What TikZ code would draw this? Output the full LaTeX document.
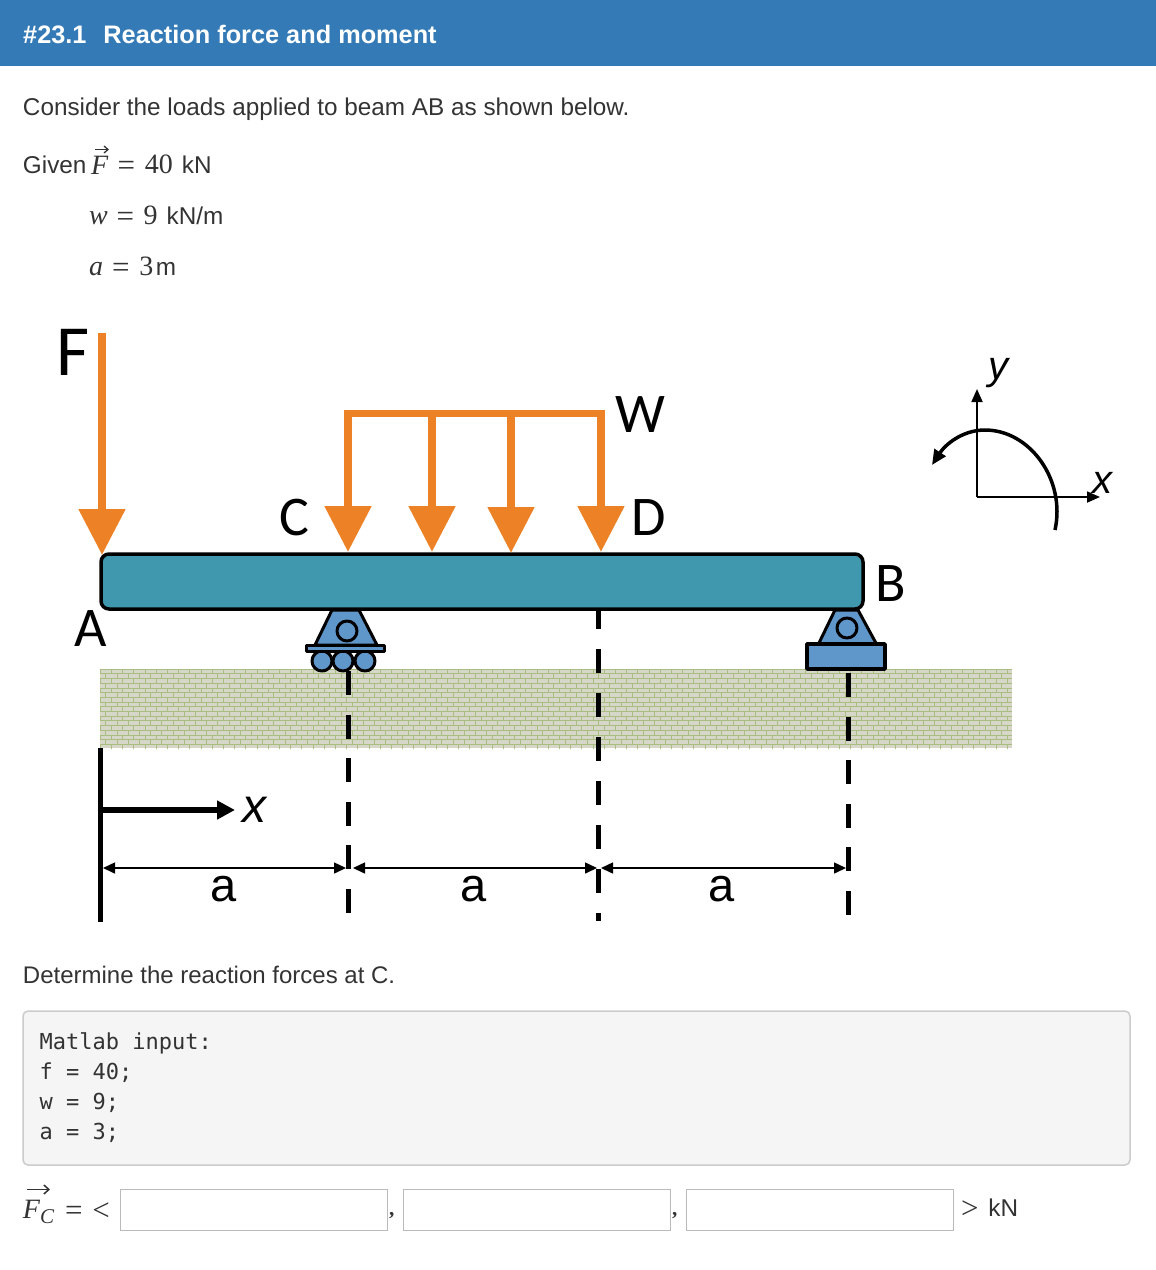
\documentclass[tikz,border=0pt]{standalone}
\usepackage{fontspec}
\usetikzlibrary{arrows.meta}
\setmainfont{Liberation Sans}
\newfontfamily\serf{Liberation Serif}
\newfontfamily\cali{Carlito}
\newfontfamily\monof{DejaVu Sans Mono}
\newcommand{\fs}[1]{\fontsize{#1}{#1}\selectfont}
\newcommand{\meq}{{\serf\fs{31}\raisebox{-2pt}{=}}}
\newcommand{\mnum}[1]{{\serf\fs{28}#1}}
\newcommand{\mvar}[1]{{\serf\itshape\fs{28}#1}}
\definecolor{headblue}{HTML}{337AB7}
\definecolor{bodytxt}{HTML}{333333}
\definecolor{orangeF}{HTML}{EC8125}
\definecolor{tealB}{HTML}{4098AE}
\definecolor{suppB}{HTML}{5F97CB}
\definecolor{brickbg}{HTML}{D6D7C8}
\definecolor{brickln}{HTML}{AABD80}
\tikzset{
  txt/.style={anchor=base west,inner sep=0pt,outer sep=0pt,text=bodytxt,font=\fs{24.3}},
  title/.style={anchor=base west,inner sep=0pt,text=white,font=\fs{25.3}\bfseries},
  mono/.style={anchor=base west,inner sep=0pt,text=bodytxt,font=\monof\fs{22}},
  biglab/.style={anchor=base,inner sep=0pt,text=black,font=\cali\fs{56}},
  sanslab/.style={anchor=base,inner sep=0pt,text=black,font=\fs{47}},
  inbox/.style={draw=black!27,line width=1.1pt,fill=white,inner sep=0pt,minimum width=267pt,minimum height=41pt},
  loadarrow/.style={draw=orangeF,line width=8.5pt,-{Triangle[width=45pt,length=46pt,fill=orangeF]}},
  dim/.style={draw=black,line width=1.5pt,{Triangle[width=11pt,length=12pt]}-{Triangle[width=11pt,length=12pt]}},
  dashln/.style={draw=black,line width=5pt,dash pattern=on 24pt off 19.6pt},
  supp/.style={draw=black,line width=3pt,fill=suppB,line join=round},
  axis/.style={draw=black,line width=1.8pt,-{Triangle[width=11pt,length=13pt]}}
}
\begin{document}
\begin{tikzpicture}[x=1pt,y=-1pt]
\useasboundingbox (0,0) rectangle (1156,1270);
% header
\fill[headblue] (0,0) rectangle (1156,66);
\node[title] (ttl) at (23,43) {\#23.1\hspace{17pt}Reaction force and moment};
% body text
\node[txt] (t1) at (23,115) {Consider the loads applied to beam AB as shown below.};
\node[txt] (t2) at (23,173) {Given};
\node[txt] (t2b) at (91,174) {\mvar{F}};
\coordinate (fv1) at (95,149.5); \coordinate (fv2) at (109,149.5);
\draw[draw=bodytxt,line width=1.3pt,-{Straight Barb[length=4pt,width=7pt]}] (fv1) -- (fv2);
\node[txt] (t2c) at (117.5,173.5) {\meq\hspace{10pt}\mnum{40}\hspace{9pt}kN};
\node[txt] (t3) at (89,224.5) {\mvar{w}\hspace{9pt}\meq\hspace{9.5pt}\mnum{9}\hspace{9pt}kN/m};
\node[txt] (t4) at (89,275.5) {\mvar{a}\hspace{9pt}\meq\hspace{10pt}\mnum{3}\hspace{2.5pt}m};
\node[txt,font=\fs{24}] (t5) at (23,983) {Determine the reaction forces at C.};
% ground
\fill[brickbg] (100,669) rectangle (1012,748);
\begin{scope}
\clip (100,669) rectangle (1012,748);
\foreach \r in {0,...,16}{
  \draw[brickln,line width=.6pt] (100,669+\r*4.7) -- (1012,669+\r*4.7);
  \pgfmathsetmacro{\off}{mod(\r,2)*5.6}
  \foreach \c in {0,...,81}{
    \draw[brickln,line width=.6pt] (100+\off+\c*11.2,669+\r*4.7) -- ++(0,4.7);
  }
}
\end{scope}
% dashed lines
\coordinate (d1a) at (348,671); \coordinate (d1b) at (348,914);
\coordinate (d2a) at (598,605); \coordinate (d2b) at (598,921);
\coordinate (d3a) at (848,673); \coordinate (d3b) at (848,915);
\draw[dashln] (d1a) -- (d1b);
\draw[dashln,dash pattern=on 24pt off 20pt] (d2a) -- (d2b);
\draw[dashln] (d3a) -- (d3b);
% supports
\draw[supp] (332,610) -- (359,610) -- (377,645) -- (315,645) -- cycle;
\draw[supp] (347,631) circle (10pt);
\draw[supp] (322,661) circle (10pt);
\draw[supp] (365,661) circle (10pt);
\draw[supp] (343,661) circle (10pt);
\draw[supp] (306.5,645) rectangle (384,651);
\draw[supp] (835,610) -- (858,610) -- (877,645) -- (818,645) -- cycle;
\draw[supp] (847,628) circle (10pt);
\draw[supp,line width=3.5pt] (807,644) rectangle (885,669);
% beam
\node[draw=black,line width=3.5pt,fill=tealB,rounded corners=8pt,minimum width=762pt,minimum height=55pt,inner sep=0pt] (beam) at (482,581.5) {};
% loads
\coordinate (fa) at (102,333); \coordinate (fb) at (102,555);
\draw[loadarrow] (fa) -- (fb);
\coordinate (w0) at (344,413); \coordinate (w5) at (605,413);
\draw[draw=orangeF,line width=7pt] (w0) -- (w5);
\foreach \n/\x/\tp in {a/348/552,b/432/552,c/511/553,d/601/552}{
  \coordinate (l\n) at (\x,413); \coordinate (m\n) at (\x,\tp);
  \draw[loadarrow] (l\n) -- (m\n);
}
% labels
\node[biglab,font=\cali\fs{72}] (lF) at (73,375) {F};
\node[biglab] (lW) at (640,432) {W};
\node[biglab] (lC) at (294,535) {C};
\node[biglab] (lD) at (649,535) {D};
\node[biglab] (lA) at (91,646) {A};
\node[biglab] (lB) at (891,601) {B};
% datum
\coordinate (v1) at (100,748); \coordinate (v2) at (100,922);
\draw[line width=5pt] (v1) -- (v2);
\coordinate (xa) at (100,810); \coordinate (xb) at (235,810);
\draw[draw=black,line width=5.5pt,-{Triangle[width=18pt,length=18pt]}] (xa) -- (xb);
\node[sanslab,font=\fs{48}\itshape] (lX) at (254,822) {x};
% dims
\coordinate (p0) at (103,868); \coordinate (p1) at (346,868); \coordinate (p2) at (353,868);
\coordinate (p3) at (597,868); \coordinate (p4) at (601,868); \coordinate (p5) at (846,868);
\draw[dim] (p0) -- (p1);
\draw[dim] (p2) -- (p3);
\draw[dim] (p4) -- (p5);
\node[sanslab] (a1) at (224,901) {a};
\node[sanslab] (a2) at (474,901) {a};
\node[sanslab] (a3) at (722,901) {a};
% coordinate frame
\coordinate (o) at (977,497); \coordinate (oy) at (977,389); \coordinate (ox) at (1100,497);
\draw[axis] (o) -- (oy);
\draw[axis] (o) -- (ox);
\node[anchor=base,inner sep=0pt,font=\fs{40}\itshape] (ly) at (998,379) {y};
\node[anchor=base,inner sep=0pt,font=\fs{40}\itshape] (lx) at (1102,493) {x};
\draw[line width=3.5pt,-{Triangle[width=13pt,length=15pt]}] (1055,530) .. controls (1066,480) and (1030,430) .. (985,430) .. controls (962,430) and (945,445) .. (932,465);
% code box
\draw[draw=black!20,line width=1.5pt,fill=black!4,rounded corners=5pt] (23,1011) rectangle (1130,1165);
\node[mono] (c1) at (39.5,1049) {Matlab input:};
\node[mono] (c2) at (39.5,1079) {f = 40;};
\node[mono] (c3) at (39.5,1109) {w = 9;};
\node[mono] (c4) at (39.5,1139) {a = 3;};
% answer line
\node[txt] (fc) at (23,1218) {\mvar{F}\raisebox{-5pt}{\serf\itshape\fs{21}C}};
\coordinate (ar1) at (27,1189.5); \coordinate (ar2) at (50,1189.5);
\draw[draw=bodytxt,line width=1.5pt,-{Straight Barb[length=5pt,width=9pt]}] (ar1) -- (ar2);
\node[txt] (eq) at (65,1218.5) {\meq\hspace{10pt}{\serf\fs{31}\raisebox{-2pt}{<}}};
\node[inbox] (b1) at (254,1210) {};
\node[inbox] (b2) at (537,1210) {};
\node[inbox] (b3) at (820,1210) {};
\node[txt] (k1) at (389,1215) {\serf\bfseries\fs{21},};
\node[txt] (k2) at (672,1215) {\serf\bfseries\fs{21},};
\node[txt] (gt) at (961,1216.5) {{\serf\fs{31}\raisebox{-2pt}{>}}\hspace{10pt}kN};
\end{tikzpicture}
\end{document}
